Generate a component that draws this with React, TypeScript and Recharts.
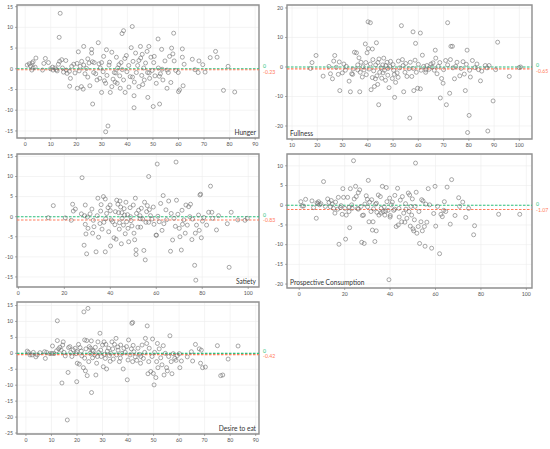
import React from 'react';
import { ScatterChart, Scatter, XAxis, YAxis, CartesianGrid, ReferenceLine, ReferenceArea } from 'recharts';

// [mean, difference] pairs
const hungerPoints: [number, number][] = [
  [0.8, 0.9], [1.6, 1.2], [2.1, 0.7], [2.7, 1.4], [3.1, 1.7], [2.6, -0.3], [3.1, 0.2], [4.2, 2.6], [3.9, 0.4],
  [6.8, -0.3], [7.9, 2.5], [7.3, 1.3], [9.1, 1.5], [9.9, 0], [10.7, 0.4], [10.9, -0.3], [11.7, 0.2], [12.2, -0.2],
  [12.5, -0.5], [13.0, 1.1], [13.5, 1.8], [14.3, 2.2], [13.3, 7.6], [13.7, 13.4], [14.6, 0.2], [15.9, 2.0],
  [16.1, -0.3], [16.4, -1.1], [17.3, -0.6], [17.7, -2.3], [17.4, -4.2], [18.2, 0.6], [19.0, 1.1], [20.3, 1.3],
  [20.8, 4.1], [21.1, -0.5], [20.4, -4.7], [22.0, -4.3], [22.7, -4.9], [22.1, 1.8], [22.9, 5.4], [22.9, 0.9],
  [23.4, -1.2], [24.0, 0.1], [24.5, 2.4], [25.0, 1.4], [26.0, 4.7], [26.0, 3.8], [26.3, 1.7], [26.8, -0.9],
  [25.3, -4.1], [26.4, -8.5], [27.6, -1.2], [28.1, -2.7], [28.6, 6.3], [28.9, 1.2], [29.2, -2.3], [29.4, 0.2],
  [29.9, 1.5], [29.9, -5.7], [30.5, -0.7], [30.7, 3.0], [31.0, -2.9], [31.5, -15.2], [32.4, -13.8], [31.8, 4.6],
  [32.0, -1.6], [32.8, 0.9], [33.3, -5.7], [33.9, 4.0], [33.9, -4.3], [34.4, -2.5], [34.9, -0.9], [35.2, -3.2],
  [35.7, 2.8], [36.2, 0.2], [36.7, 1.0], [37.0, -1.7], [37.2, -4.7], [37.9, 8.5], [38.5, 9.2], [38.0, -0.2],
  [38.5, -2.7], [39.1, -5.7], [39.6, 3.2], [39.8, -0.7], [40.6, -4.4], [41.1, -1.9], [41.5, 5.1], [41.9, 10.2],
  [42.2, 1.8], [42.6, -6.5], [42.6, -9.4], [42.7, -3.2], [43.2, 3.8], [43.5, -0.9], [44.0, 0.8], [44.5, -4.3],
  [45.1, 5.4], [45.6, -1.6], [45.8, 3.5], [46.4, 0.2], [46.6, -2.7], [47.1, 1.4], [47.7, 4.2], [47.9, -0.9],
  [48.0, -6.9], [48.4, 5.4], [48.7, -2.3], [49.2, 2.8], [49.7, -0.4], [50.1, -9.1], [50.3, 1.5], [50.8, -1.7],
  [51.3, -3.5], [52.0, 7.2], [52.1, 0.2], [52.6, -8.5], [52.9, -1.2], [53.4, 4.7], [53.6, -0.1], [53.9, -2.7],
  [54.7, 1.9], [55.5, -4.7], [56.0, -0.9], [56.5, 3.0], [57.0, -3.3], [57.3, 5.0], [57.8, 3.6], [58.1, 8.6],
  [58.3, 1.9], [58.9, -0.4], [59.9, -0.9], [60.0, -5.5], [60.4, -5.1], [61.5, 4.8], [61.5, 2.8], [61.8, -4.1],
  [62.2, 1.1], [65.4, 2.3], [66.4, -0.2], [68.0, 1.9], [67.7, -0.9], [69.5, 1.0], [70.4, -0.8], [72.4, 2.7],
  [74.5, 4.2], [75.1, 2.8], [77.6, -5.2], [79.4, 0.6], [82.0, -5.6],
  [33.0, 1.6], [35.5, -1.0], [37.5, 1.5], [40.5, 0.8], [44.5, 2.0], [46.0, -3.8], [48.5, -1.0], [50.5, 3.0],
  [31.5, -3.5], [27.0, 1.5], [24.5, -2.0], [21.5, 0.6], [19.5, -1.0], [15.0, -0.8], [45.2, 2.6], [42.0, -2.0],
  [39.0, 2.5], [36.0, -3.5], [52.5, -1.8], [55.5, -0.3],
];

const fullnessPoints: [number, number][] = [
  [17.3, -0.5], [17.9, 1.5], [19.5, 3.9], [22.3, -3.1], [24.6, 0.2], [25.2, -2.3], [26.0, -4.0], [26.5, 2.0],
  [26.9, 3.9], [27.5, -0.1], [28.3, -2.5], [28.7, 1.7], [28.9, -8.0], [29.9, -2.0], [31.1, -1.1], [31.5, 0.2],
  [32.6, -4.8], [33.1, -8.4], [33.6, -2.3], [34.1, -0.7], [34.7, 5.0], [35.5, 4.8], [36.0, 0.7], [36.5, 3.1],
  [36.8, -8.4], [37.0, -1.8], [37.3, 1.6], [37.8, -3.4], [38.1, 0.1], [39.0, 7.8], [39.2, 1.5], [39.4, -2.6],
  [39.7, 4.8], [40.1, 15.3], [40.2, 6.2], [40.5, -0.7], [41.0, 15.0], [41.0, 1.0], [41.3, -7.7], [41.8, 6.1],
  [41.8, -3.6], [42.3, -1.3], [42.6, -6.6], [43.1, 0.7], [43.4, 8.2], [43.6, -3.0], [43.9, -5.9], [44.3, -12.8],
  [44.4, 2.7], [44.7, -1.8], [45.2, -0.3], [45.5, -3.8], [45.9, 0.7], [46.3, 3.0], [46.6, -1.1], [47.1, 0.5],
  [47.6, 1.6], [47.9, -2.8], [48.4, -7.0], [48.7, 0.2], [49.0, 1.9], [49.7, -3.9], [50.2, -1.1], [50.6, -10.3],
  [51.0, -5.2], [51.6, -2.0], [52.1, 2.0], [52.6, -0.3], [53.3, 14.0], [53.7, 2.5], [54.2, -8.4], [54.7, -1.8],
  [55.5, -3.2], [56.3, -0.6], [56.6, -17.3], [56.8, 1.6], [57.4, -3.2], [57.9, 11.9], [58.2, -8.0], [58.7, 2.3],
  [58.9, 8.0], [59.2, -1.8], [59.7, -7.2], [60.0, 0.9], [60.8, 11.5], [60.8, -7.4], [61.1, -1.1], [61.6, 4.0],
  [62.1, 0.2], [62.9, -1.8], [63.4, 0.5], [64.2, -0.8], [65.0, 1.0], [65.8, 1.4], [66.3, -1.1], [66.7, 5.7],
  [66.9, 3.0], [67.4, -2.3], [67.9, 0.2], [68.7, -10.5], [69.2, -3.9], [69.8, -5.5], [70.0, -0.9], [70.8, 2.2],
  [71.1, -12.8], [71.6, 15.0], [71.6, 0.7], [72.4, -8.9], [72.7, 2.5], [72.9, 7.0], [73.5, 7.0], [73.7, -0.3],
  [74.3, -4.0], [74.8, 0.2], [75.3, 1.6], [76.4, -3.0], [76.9, -0.5], [77.7, 1.8], [78.2, -2.4], [78.6, -8.0],
  [79.0, 0.9], [79.3, 5.7], [79.5, -22.2], [80.1, -16.4], [80.3, -1.1], [80.6, -3.4], [81.4, 2.2], [82.4, -0.2],
  [83.2, 1.0], [83.8, -0.9], [84.6, -4.7], [85.1, -1.4], [86.5, 0.5], [87.2, -0.3], [87.5, -21.7], [88.0, 0.5],
  [89.6, -11.5], [90.6, -0.9], [91.4, 8.4], [96.0, -3.2], [99.9, -0.2], [100.5, 0.0],
  [38.5, -1.0], [44.0, 1.5], [46.0, -2.0], [48.0, -0.5], [50.0, 0.8], [52.0, -3.5], [54.0, 0.5], [43.0, -4.0],
  [55.0, 1.2], [58.0, -0.5], [36.0, -1.0], [42.0, 2.5], [47.0, -4.5], [50.5, -2.5], [63.0, -1.0], [65.5, 0.0],
  [68.5, 1.5], [30.5, 1.0], [34.0, -2.5],
];

const satietyPoints: [number, number][] = [
  [13.0, -0.25], [15.2, 2.75], [20.4, -0.3], [23.0, -0.9], [23.6, 3.1], [23.9, 1.4], [24.8, 1.9], [27.4, 0.7],
  [27.7, 9.7], [28.6, -7.1], [28.8, 0.25], [29.1, 2.9], [29.1, -1.9], [29.4, -4.3], [29.7, -9.25], [30.0, -0.1],
  [30.3, -2.9], [31.2, 0.7], [32.0, 1.9], [32.3, -4.1], [32.6, -0.9], [32.9, -2.5], [33.8, -8.75], [34.3, 0.25],
  [34.6, 4.6], [34.9, -5.1], [35.5, -1.7], [35.8, 1.4], [36.4, -3.1], [37.0, 5.0], [37.2, -1.4], [37.8, 4.4],
  [37.8, -8.75], [38.4, 0.8], [39.0, 2.25], [39.3, -3.75], [39.9, 2.9], [40.1, -7.3], [40.4, -0.8], [41.0, -1.25],
  [41.6, -5.25], [42.2, 1.25], [42.5, -5.6], [42.8, 4.1], [43.3, 3.1], [43.6, 1.0], [43.9, -3.1], [44.2, 3.9],
  [44.5, 2.4], [44.8, -6.75], [45.1, -0.4], [45.7, -2.1], [46.2, 0.4], [46.5, -4.25], [46.8, 3.6], [47.1, -1.25],
  [47.7, -2.9], [48.0, -6.25], [48.6, 2.25], [48.8, 0], [49.4, -2.3], [50.0, 2.9], [50.3, -4.1], [50.6, -5.75],
  [50.9, 4.6], [51.2, -9.4], [51.2, -8.25], [51.4, 0.8], [52.0, -2.6], [52.3, 1.6], [52.9, 0.25], [53.2, -2.6],
  [53.5, 2.1], [54.1, -0.6], [54.6, -8.4], [54.9, 3.6], [55.2, -10.75], [55.5, -1.4], [55.8, 1.25], [56.1, 2.75],
  [56.7, 10.0], [56.7, -1.4], [57.0, 1.75], [57.5, 0.25], [58.1, -0.6], [58.7, 2.4], [59.0, -1.9], [59.9, -4.6],
  [60.1, -4.6], [60.4, 13.1], [60.7, 0.1], [61.3, -1.25], [61.9, 3.3], [62.5, -3.4], [63.0, 5.25], [63.3, -1.75],
  [64.2, 1.7], [64.5, -0.75], [65.4, 3.9], [66.2, -8.6], [66.5, 0.8], [67.1, -5.8], [67.7, -0.4], [68.3, -2.4],
  [68.6, 13.6], [68.8, 4.1], [69.4, 0.6], [70.0, -2.9], [70.3, -5.0], [70.9, -8.3], [71.2, 1.6], [71.4, -1.9],
  [72.0, -0.8], [72.6, -4.1], [72.9, 2.9], [73.5, -2.1], [74.1, 2.5], [74.6, 0], [74.9, 3.1], [75.5, -5.7],
  [75.8, -0.6], [76.7, -12.1], [77.0, -4.1], [77.2, -15.8], [77.5, -2.1], [78.4, 0.4], [78.7, -3.4], [79.0, 5.4],
  [79.3, 5.6], [79.6, -5.25], [80.1, -1.1], [80.7, -0.2], [81.9, -2.1], [82.8, 1.1], [83.6, 7.6], [84.2, 1.1],
  [84.5, -0.4], [86.2, -3.3], [87.1, 0.25], [90.9, -1.75], [91.7, -12.6], [92.6, 1.1], [95.5, -0.8], [98.6, -0.9],
  [99.6, -0.4],
  [40.0, 1.5], [42.0, -2.0], [45.0, 1.0], [47.5, 0.5], [49.0, -1.0], [53.0, -0.5], [44.0, -1.5], [46.0, 2.0],
  [38.0, -0.5], [36.0, 3.0],
];

const prospectivePoints: [number, number][] = [
  [0.7, 0.9], [1.3, -0.2], [1.9, -0.2], [2.8, 1.5], [5.6, 1.1], [6.3, -0.6], [7.5, -3.3], [7.8, 0.6], [8.2, 0.4],
  [8.5, 0.9], [9.0, 0.1], [9.5, 0.4], [10.7, 6.0], [11.5, -0.3], [12.5, 1.6], [13.1, 0.7], [13.7, -0.4],
  [14.1, 1.2], [14.5, 0.3], [15.1, -0.8], [15.7, -2.0], [16.0, 0.8], [16.9, -1.0], [17.2, 2.0], [17.5, -9.9],
  [18.1, -0.6], [18.4, -0.1], [18.9, -2.3], [19.2, 4.2], [19.5, 2.0], [20.1, -0.8], [20.4, -8.6], [20.7, -2.5],
  [21.3, 2.0], [21.9, -1.6], [22.2, -5.7], [22.5, 4.2], [23.1, 0.1], [23.3, -0.8], [23.9, 11.3], [24.2, 1.6],
  [24.8, 4.8], [25.1, 2.2], [25.7, -0.8], [26.0, 3.2], [26.6, 3.9], [27.2, -0.3], [27.5, -9.4], [27.8, -2.6],
  [28.3, -2.5], [28.6, -9.7], [28.9, 0.3], [29.5, 2.4], [30.1, -0.4], [30.4, 6.3], [30.7, -4.2], [31.0, 0.8],
  [31.6, -1.6], [31.9, 1.4], [32.2, -6.3], [32.5, -4.2], [32.7, -0.9], [33.3, -9.2], [33.6, 0.3], [33.9, -6.5],
  [34.2, -1.8], [34.8, 2.6], [35.1, -2.5], [35.7, 2.2], [36.1, -0.8], [36.6, 4.8], [36.9, -1.6], [37.4, -0.4],
  [37.7, -2.5], [38.3, 4.5], [38.6, 0.9], [39.1, -1.3], [39.5, -18.9], [39.8, 1.8], [40.1, -2.6], [40.5, 0.1],
  [41.0, 0.8], [41.6, -1.3], [42.1, 2.5], [42.7, -5.4], [43.3, 4.3], [43.6, -5.0], [43.9, -0.8], [44.5, 1.3],
  [45.1, -4.2], [45.4, 2.2], [46.0, -2.0], [46.5, -4.3], [46.8, 0.4], [47.4, -3.3], [48.0, 3.1], [48.3, -1.6],
  [48.6, 2.6], [48.9, -5.3], [49.2, -0.3], [49.5, -2.5], [49.8, 1.6], [50.1, -6.0], [50.4, -6.5], [50.7, -3.7],
  [51.0, -0.3], [51.2, 10.7], [51.5, 3.3], [51.8, -7.1], [52.4, -5.4], [52.7, -1.6], [53.0, -9.7], [53.6, -4.2],
  [53.9, 1.4], [54.2, -6.5], [54.5, 1.1], [55.1, -5.4], [55.4, -10.4], [55.7, 0.3], [56.2, -4.3], [56.8, 4.2],
  [57.4, 0.1], [58.3, -10.9], [59.2, -2.1], [59.8, 4.8], [60.1, -5.3], [60.9, -0.3], [61.8, -12.3], [62.4, -2.3],
  [63.0, -2.9], [63.6, -1.3], [63.9, 0.9], [64.5, -1.6], [65.1, 4.6], [66.5, -4.8], [67.1, 6.5], [68.6, -2.6],
  [70.2, 1.9], [70.6, -0.3], [72.0, 0.8], [73.3, -3.1], [74.6, -0.8], [76.8, -7.5], [77.2, -5.2], [87.8, -2.3],
  [97.1, -2.3],
  [36.0, -2.0], [38.0, -1.5], [42.0, -1.0], [44.0, -3.0], [47.0, -1.0], [30.0, 1.5], [34.0, 0.5], [26.0, -1.0],
  [22.0, -0.5], [40.0, -3.0],
];

const desirePoints: [number, number][] = [
  [0.5, 0.7], [1.0, 0.3], [1.6, -0.5], [2.4, -0.5], [2.9, 0.3], [3.9, -1.1], [4.4, -0.5], [5.5, 0.2], [7.3, 0.5],
  [7.6, -1.6], [8.1, 0.3], [9.4, -0.1], [10.2, 0], [10.4, 2.3], [11.0, -0.1], [12.3, 10.2], [12.3, 4.0],
  [12.8, 1.4], [13.3, 1.9], [13.8, 1.0], [14.1, -9.3], [14.4, 2.6], [14.6, 3.6], [14.9, 0.3], [15.4, -0.8],
  [16.2, -20.9], [16.5, -6.0], [16.7, 1.8], [17.2, 2.1], [17.5, 0.3], [18.0, -1.0], [18.5, 1.1], [19.3, 1.6],
  [19.6, -0.1], [19.9, -8.9], [20.1, -3.1], [20.6, 2.8], [20.9, -3.4], [21.2, 1.8], [21.7, 0.7], [21.9, -0.8],
  [22.5, -4.5], [22.7, 13.0], [23.0, 4.2], [23.3, -5.5], [23.5, 1.4], [23.8, 4.0], [24.0, -7.0], [24.3, 14.1],
  [24.6, -2.6], [24.8, 2.1], [25.1, 0], [25.3, 1.6], [25.6, 3.9], [25.7, -12.3], [26.1, -1.4], [26.4, 0.7],
  [26.9, -0.5], [27.2, 1.9], [27.4, -6.8], [27.7, -3.1], [28.2, 3.6], [28.5, 0.3], [29.0, 6.3], [29.3, 1.0],
  [29.5, -1.0], [30.0, 2.6], [30.3, -4.2], [30.6, 3.6], [30.8, -0.3], [31.1, -1.6], [31.3, 2.8], [31.6, -4.9],
  [31.9, 0.7], [32.4, 1.6], [32.7, -0.7], [33.2, 0], [33.7, 3.6], [34.0, 1.4], [34.2, -1.8], [34.7, 2.8],
  [35.3, 4.7], [35.5, -0.5], [36.1, 1.0], [36.6, -2.6], [37.1, 2.6], [37.6, 0], [38.1, -4.9], [38.4, 1.6],
  [38.9, 0.3], [39.4, 2.1], [39.7, -8.3], [40.0, -2.1], [40.2, 4.2], [40.8, -0.5], [41.3, 1.4], [41.5, 9.4],
  [41.8, 9.7], [41.8, -2.6], [42.3, 0.5], [42.8, -1.1], [43.4, -2.2], [43.9, 1.6], [44.4, -0.3], [44.9, -3.1],
  [45.5, 2.6], [46.0, -1.6], [46.5, 0.3], [46.8, 4.7], [47.3, 3.1], [47.5, 8.6], [47.8, -6.4], [48.1, -2.6],
  [48.3, 1.6], [48.9, -5.7], [49.4, -1.0], [49.6, 4.5], [49.9, -6.3], [50.2, -9.9], [50.4, 0.3], [50.9, -7.6],
  [51.2, -2.6], [51.5, 3.1], [51.7, -4.5], [52.2, 1.4], [52.8, -1.4], [53.3, -3.6], [53.8, 2.4], [54.1, -6.8],
  [54.6, 0], [55.1, -4.5], [55.4, -5.5], [55.9, -1.0], [56.4, 5.5], [56.9, -2.6], [57.2, -6.4], [57.7, -0.1],
  [58.3, -1.6], [58.8, -2.2], [59.3, -0.7], [60.1, -0.1], [60.3, -4.5], [60.9, -2.4], [63.2, -1.1], [64.8, 0.5],
  [65.3, -2.4], [66.4, 2.8], [67.9, 1.4], [68.4, -3.1], [68.7, 1.0], [69.2, -4.5], [70.3, -4.3], [75.0, 2.4],
  [76.3, -7.0], [77.1, -6.8], [79.2, -1.8], [83.1, 2.3],
  [26.0, 1.0], [28.0, -1.0], [33.0, -2.5], [36.0, 2.0], [37.0, -1.5], [42.0, 2.5], [45.0, -1.0], [20.0, 0.5],
  [23.0, -1.5], [12.0, 0.8],
];

const panelTitles = ['Hunger', 'Fullness', 'Satiety', 'Prospective Consumption', 'Desire to eat'];
const panelBias = [-0.23, -0.65, -0.83, -1.07, -0.42];

const xTicksNinety = [0, 10, 20, 30, 40, 50, 60, 70, 80, 90];
const xTicksFull = [10, 20, 30, 40, 50, 60, 70, 80, 90, 100];
const xTicksTwenty = [0, 20, 40, 60, 80, 100];
const yTicksHunger = [-15, -10, -5, 0, 5, 10, 15];
const yTicksFullness = [-20, -10, 0, 10, 20];
const yTicksSatiety = [-15, -10, -5, 0, 5, 10, 15];
const yTicksProspective = [-20, -15, -10, -5, 0, 5, 10];
const yTicksDesire = [-25, -20, -15, -10, -5, 0, 5, 10, 15];

const GREEN = '#2ec27e';
const RED = '#ff7d5c';
const FONT = 'Lato, "Open Sans", sans-serif';

const OpenDot = (props: any) => (
  <circle cx={props.cx} cy={props.cy} r={2} fill="none" stroke="#6e6e6e" strokeWidth={0.6} />
);

const sideLabel = (text: string, color: string, dy: number) => (props: any) => {
  const vb = props.viewBox || {};
  return (
    <text
      x={(vb.x || 0) + (vb.width || 0) + 4}
      y={(vb.y || 0) + dy}
      fill={color}
      fontSize={5.2}
      fontFamily={FONT}
      dominantBaseline="middle"
    >
      {text}
    </text>
  );
};

type PanelProps = {
  title: string;
  points: [number, number][];
  bias: number;
  xDomain: [number, number];
  yDomain: [number, number];
  xTicks: number[];
  yTicks: number[];
  left: number;
  top: number;
  rightMargin: number;
  xHeight: number;
  titlePos: 'insideBottomRight' | 'insideBottomLeft';
  greenDy: number;
  redDy: number;
};

const Panel = ({ title, points, bias, xDomain, yDomain, xTicks, yTicks, left, top, rightMargin, xHeight, titlePos, greenDy, redDy }: PanelProps) => {
  const data = points.map(([x, y]) => ({ x, y }));
  const tickStyle = { fontSize: 5.2, fill: '#555', fontFamily: FONT };
  return (
    <div style={{ position: 'absolute', left, top }}>
      <ScatterChart width={280} height={150} margin={{ top: 5, right: rightMargin, bottom: 0, left: 0 }}>
        <CartesianGrid stroke="#ececec" strokeWidth={0.6} />
        <XAxis
          type="number"
          dataKey="x"
          domain={xDomain}
          ticks={xTicks}
          interval={0}
          allowDataOverflow
          height={xHeight}
          tick={tickStyle}
          tickSize={2}
          tickMargin={2}
          axisLine={false}
          tickLine={{ stroke: '#777', strokeWidth: 0.6 }}
        />
        <YAxis
          type="number"
          dataKey="y"
          domain={yDomain}
          ticks={yTicks}
          interval={0}
          allowDataOverflow
          width={17}
          tick={tickStyle}
          tickSize={2}
          tickMargin={2}
          axisLine={false}
          tickLine={{ stroke: '#777', strokeWidth: 0.6 }}
        />
        <ReferenceLine y={0} stroke={GREEN} strokeWidth={1.1} strokeDasharray="2.5 1.5" label={sideLabel('0', GREEN, greenDy)} />
        <ReferenceLine y={bias} stroke={RED} strokeWidth={1.1} strokeDasharray="2.5 1.5" label={sideLabel(bias.toFixed(2), RED, redDy)} />
        <Scatter data={data} shape={OpenDot} isAnimationActive={false} />
        <ReferenceArea
          x1={xDomain[0]}
          x2={xDomain[1]}
          y1={yDomain[0]}
          y2={yDomain[1]}
          fill="none"
          fillOpacity={0}
          stroke="#909090"
          strokeWidth={1.4}
          label={{ value: title, position: titlePos, offset: 3, fontSize: 6.6, fill: '#333', fontFamily: FONT }}
        />
      </ScatterChart>
    </div>
  );
};

export default function App() {
  return (
    <div style={{ position: 'absolute', left: 0, top: 0, width: 550, height: 449, background: '#fff' }}>
      <Panel title={panelTitles[0]} points={hungerPoints} bias={panelBias[0]} xDomain={[-3.2, 91.5]} yDomain={[-16.7, 15.4]}
        xTicks={xTicksNinety} yTicks={yTicksHunger} left={0} top={0} rightMargin={21} xHeight={12}
        titlePos="insideBottomRight" greenDy={-2} redDy={2.5} />
      <Panel title={panelTitles[1]} points={fullnessPoints} bias={panelBias[1]} xDomain={[8.0, 105.0]} yDomain={[-24.4, 21.0]}
        xTicks={xTicksFull} yTicks={yTicksFullness} left={270} top={0} rightMargin={18} xHeight={11}
        titlePos="insideBottomLeft" greenDy={-1.5} redDy={2.5} />
      <Panel title={panelTitles[2]} points={satietyPoints} bias={panelBias[2]} xDomain={[-0.6, 104.7]} yDomain={[-17.5, 15.6]}
        xTicks={xTicksTwenty} yTicks={yTicksSatiety} left={0} top={149} rightMargin={21} xHeight={12}
        titlePos="insideBottomRight" greenDy={-1} redDy={1} />
      <Panel title={panelTitles[3]} points={prospectivePoints} bias={panelBias[3]} xDomain={[-5.4, 102.5]} yDomain={[-21.0, 13.0]}
        xTicks={xTicksTwenty} yTicks={yTicksProspective} left={270} top={149} rightMargin={18} xHeight={11}
        titlePos="insideBottomLeft" greenDy={-1} redDy={0.8} />
      <Panel title={panelTitles[4]} points={desirePoints} bias={panelBias[4]} xDomain={[-3.5, 91.3]} yDomain={[-25.3, 16.1]}
        xTicks={xTicksNinety} yTicks={yTicksDesire} left={0} top={297} rightMargin={21} xHeight={13}
        titlePos="insideBottomRight" greenDy={-1.5} redDy={2.5} />
    </div>
  );
}
